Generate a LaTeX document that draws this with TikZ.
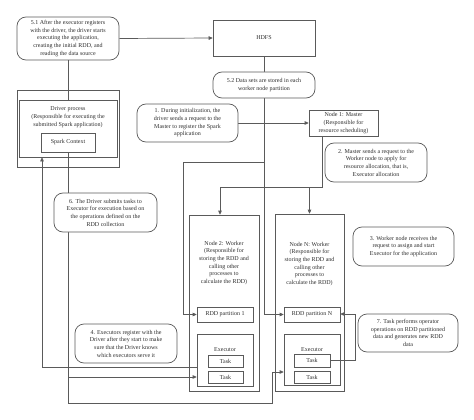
\documentclass[tikz,border=0pt]{standalone}
\usepackage{fontspec}
\setmainfont{Liberation Serif}
\usetikzlibrary{arrows.meta}
\pgfdeclarelayer{background}
\pgfsetlayers{background,main}
\definecolor{lc}{HTML}{5A5A5A}
\definecolor{tc}{HTML}{2E2E2E}
\begin{document}
\begin{tikzpicture}[x=1pt,y=-1pt,
  box/.style={draw=lc, line width=0.7pt, inner sep=0pt, font=\fontsize{6}{7.7}\selectfont, text=tc, align=center},
  rbox/.style={box, rounded corners=9pt, fill=white},
  lbl/.style={inner sep=0pt, font=\fontsize{6}{7.7}\selectfont, text=tc, align=center},
  ln/.style={draw=lc, line width=0.7pt},
  arr/.style={ln, -{Triangle[length=4pt,width=3.6pt]}}]
\useasboundingbox (0,0) rectangle (474,420);
% top row
\node[rbox, minimum width=102pt, minimum height=43pt] (s51) at (68,38.5) {5.1 After the executor registers\\with the driver, the driver starts\\executing the application,\\creating the initial RDD, and\\reading the data source};
\node[box, minimum width=102pt, minimum height=36pt] (hdfs) at (264,38) {HDFS};
\node[rbox, minimum width=102pt, minimum height=26pt] (s52) at (264,85) {5.2 Data sets are stored in each\\worker node partition};
\node[rbox, minimum width=101pt, minimum height=38pt] (s1) at (187.5,123) {1. During initialization, the\\driver sends a request to the\\Master to register the Spark\\application};
\node[box, fill=white, minimum width=69pt, minimum height=26pt] (master) at (343.5,123) {Node 1: Master\\(Responsible for\\resource scheduling)};
\node[rbox, minimum width=102pt, minimum height=39pt] (s2) at (376,162.5) {2. Master sends a request to the\\Worker node to apply for\\resource allocation, that is,\\Executor allocation};
\node[rbox, minimum width=101pt, minimum height=39pt] (s3) at (403.5,246.5) {3. Worker node receives the\\request to assign and start\\Executor for the application};
% driver
\node[box, minimum width=102pt, minimum height=77pt] (drvout) at (68,128.5) {};
\node[box, minimum width=98pt, minimum height=57pt] (drvin) at (68,128.5) {};
\node[lbl] (drvtxt) at (68,117) {Driver process\\(Responsible for executing the\\submitted Spark application)};
\node[box, fill=white, minimum width=54pt, minimum height=19pt] (spark) at (68,142.5) {Spark Context};
\node[rbox, minimum width=103pt, minimum height=39pt] (s6) at (105.5,212.5) {6. The Driver submits tasks to\\Executor for execution based on\\the operations defined on the\\RDD collection};
\node[rbox, minimum width=102pt, minimum height=39pt] (s4) at (126,343.5) {4. Executors register with the\\Driver after they start to make\\sure that the Driver knows\\which executors serve it};
% node 2
\node[box, minimum width=70pt, minimum height=176pt] (node2) at (224,303) {};
\node[lbl] (n2txt) at (224,263) {Node 2: Worker\\(Responsible for\\storing the RDD and\\calling other\\processes to\\calculate the RDD)};
\node[box, fill=white, minimum width=56pt, minimum height=15pt] (rdd1) at (225,314.5) {RDD partition 1};
\node[box, minimum width=56pt, minimum height=52pt] (exec2) at (225,360) {};
\node[lbl] (ex2txt) at (225,349.5) {Executor};
\node[box, fill=white, minimum width=35pt, minimum height=12pt] (t2a) at (225.5,361) {Task};
\node[box, fill=white, minimum width=35pt, minimum height=12pt] (t2b) at (225.5,377) {Task};
% node N
\node[box, minimum width=69pt, minimum height=177pt] (nodeN) at (309.5,302.5) {};
\node[lbl] (nNtxt) at (309.5,264) {Node N: Worker\\(Responsible for\\storing the RDD and\\calling other\\processes to\\calculate the RDD)};
\node[box, fill=white, minimum width=56pt, minimum height=15pt] (rddN) at (312,314.5) {RDD partition N};
\node[box, minimum width=56pt, minimum height=51pt] (execN) at (312,359.5) {};
\node[lbl] (exNtxt) at (312,349.5) {Executor};
\node[box, fill=white, minimum width=36pt, minimum height=13pt] (tNa) at (312,360.5) {Task};
\node[box, fill=white, minimum width=36pt, minimum height=12pt] (tNb) at (312,377) {Task};
\node[rbox, minimum width=100pt, minimum height=38pt] (s7) at (408,333) {7. Task performs operator\\operations on RDD partitioned\\data and generates new RDD\\data};
% coordinates
\coordinate (b1) at (264,162);
\coordinate (b1l) at (183,162);
\coordinate (m1) at (322,187);
\coordinate (m2) at (220,187);
\coordinate (c4) at (42,367);
\coordinate (c6) at (68,377);
\coordinate (c6b) at (68,403);
\coordinate (c6c) at (272,403);
\coordinate (c6d) at (272,372);
\coordinate (c7a) at (355,360.5);
\coordinate (c7b) at (355,314);
\begin{pgfonlayer}{background}
\draw[arr] (s51.east) -- (hdfs.west);
\draw[ln] (s51.south) -- (drvin.north);
\draw[ln] (hdfs.south) -- (s52.north);
\draw[arr] (s52.south) |- (rddN.west);
\draw[arr] (b1) -- (b1l) |- (rdd1.west);
\draw[arr] (s1.east) -- (master.west);
\draw[ln] (master.south -| m1) -- (m1) -- (m2);
\draw[arr] (m2) -- (m2 |- node2.north);
\draw[arr] (nodeN.north |- m1) -- (nodeN.north);
\draw[arr] (exec2.west |- c4) -- (c4) -- (c4 |- drvin.south);
\draw[arr] (spark.south) -- (c6) -- (exec2.west |- c6);
\draw[arr] (c6) -- (c6b) -- (c6c) -- (c6d) -- (execN.west |- c6d);
\draw[arr] (tNa.east) -- (c7a) -- (c7b) -- (rddN.east |- c7b);
\end{pgfonlayer}
\end{tikzpicture}
\end{document}
